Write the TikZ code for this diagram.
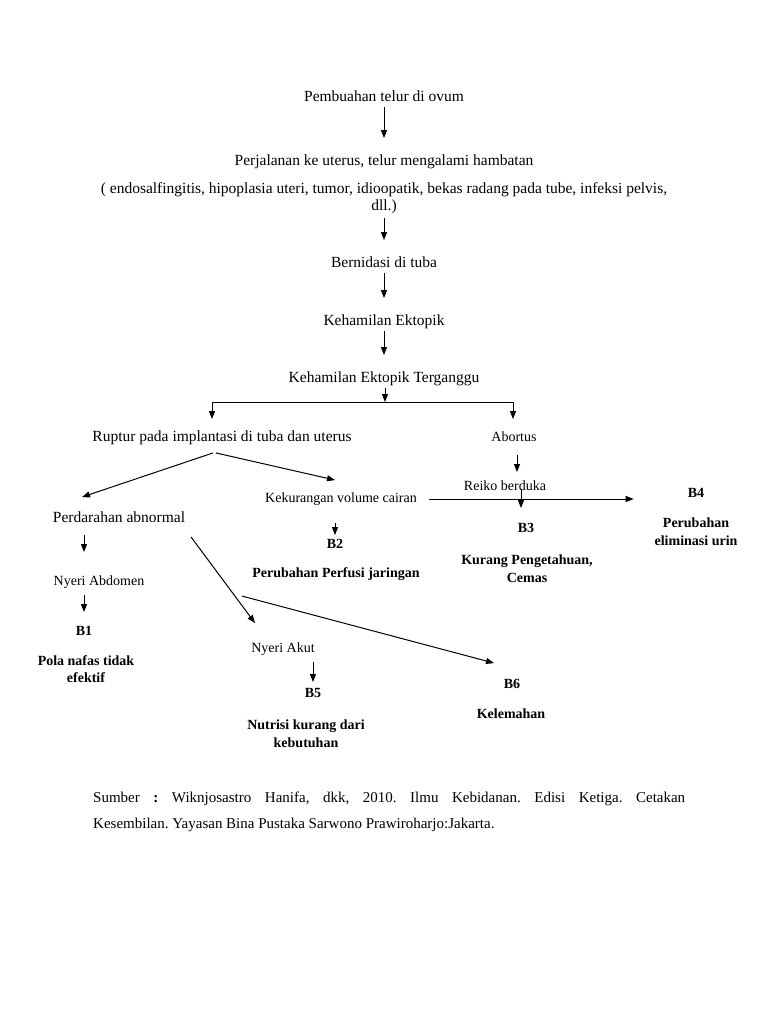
\documentclass[tikz,border=0pt]{standalone}
\usepackage{fontspec}
\setmainfont{Liberation Serif}
\usetikzlibrary{arrows.meta,calc,positioning}

\begin{document}
\begin{tikzpicture}[x=1pt, y=-1pt,
    txt/.style={inner sep=0pt, text height=12.5pt, text depth=1pt, font=\fontsize{15.5}{17}\selectfont},
    sml/.style={txt, font=\fontsize{14}{17}\selectfont},
    dx/.style={txt, font=\bfseries\fontsize{14}{18}\selectfont},
    dxx/.style={inner sep=0pt, align=center, font=\bfseries\fontsize{14}{17.5}\selectfont},
    arr/.style={-{Triangle[length=8pt,width=6pt]}, line width=1pt},
    down/.style={arr, shorten <=4pt, shorten >=15pt}]
    \useasboundingbox (0,0) rectangle (768,1024);

    % Main chain
    \node [txt] (pembuahan) at (384,96) {Pembuahan telur di ovum};
    \node [txt] (perjalanan) at (384,160) {Perjalanan ke uterus, telur mengalami hambatan};
    \node [inner sep=0pt, align=center, font=\fontsize{15.5}{17}\selectfont, anchor=north] (sebab) at (384,182)
        {( endosalfingitis, hipoplasia uteri, tumor, idioopatik, bekas radang pada tube, infeksi pelvis,\\ dll.)};
    \node [txt] (bernidasi) at (384,262) {Bernidasi di tuba};
    \node [txt] (ektopik) at (384,320) {Kehamilan Ektopik};
    \node [txt] (kets) at (384,377) {Kehamilan Ektopik Terganggu};

    \draw [down] (pembuahan) -- (perjalanan);
    \draw [down] (sebab.south) -- (bernidasi.north);
    \draw [down] (bernidasi) -- (ektopik);
    \draw [down] (ektopik) -- (kets);

    % Branch
    \coordinate (fork) at (385,402);
    \coordinate (forkL) at (212,402);
    \coordinate (forkR) at (513,402);
    \node [txt] (ruptur) at (222,436) {Ruptur pada implantasi di tuba dan uterus};
    \node [sml] (abortus) at (514,436) {Abortus};
    \draw [arr, shorten <=4pt] (kets.south -| fork) -- (fork);
    \draw [line width=1pt] (forkL) -- (forkR);
    \draw [arr, shorten >=10pt] (forkL) -- (forkL |- ruptur.north);
    \draw [arr, shorten >=10pt] (forkR) -- (forkR |- abortus.north);

    % Left side
    \node [txt] (perdarahan) at (119,517) {Perdarahan abnormal};
    \node [sml] (abdomen) at (99,580) {Nyeri Abdomen};
    \node [dx] (bA) at (84,630) {B1};
    \node [dxx, anchor=north] (pola) at (86,655) {Pola nafas tidak\\efektif};
    \draw [arr] ($(ruptur.south)+(-9,10)$) -- ($(perdarahan.north)+(-37,-13)$);
    \draw [arr] ($(perdarahan.south -| bA.north)+(0,11)$) -- ($(abdomen.north -| bA.north)+(0,-21)$);
    \draw [arr] ($(abdomen.south -| bA.north)+(0,8)$) -- ($(bA.north)+(0,-11)$);

    % Middle
    \node [sml] (kekurangan) at (341,497) {Kekurangan volume cairan};
    \node [dx] (bB) at (335,543) {B2};
    \node [dx] (perfusi) at (336,572) {Perubahan Perfusi jaringan};
    \draw [arr] ($(ruptur.south)+(-6,10)$) -- ($(kekurangan.north)+(-6,-10)$);
    \draw [arr] ($(kekurangan.south)+(-6,19)$) -- ($(bB.north)+(0,-1)$);

    % Right side
    \node [sml] (reiko) at (505,485) {Reiko berduka};
    \node [dx] (bC) at (526,527) {B3};
    \node [dxx, anchor=north] (kurang) at (527,555) {Kurang Pengetahuan,\\Cemas};
    \node [dx] (bD) at (696,492) {B4};
    \node [dxx, anchor=north] (eliminasi) at (696,518) {Perubahan\\eliminasi urin};
    \draw [arr] ($(abortus.south)+(3,12)$) -- ($(reiko.north)+(12,-6)$);
    \draw [arr] ($(kekurangan.east)+(12,2)$) -- ($(bD.west)+(-54,7)$);
    \draw [arr] ($(reiko.south)+(16,-3)$) -- ($(bC.north)+(-5,-12)$);

    % Bottom
    \node [sml] (akut) at (283,647) {Nyeri Akut};
    \node [dx] (bE) at (313,692) {B5};
    \node [dxx, anchor=north] (nutrisi) at (306,720) {Nutrisi kurang dari\\kebutuhan};
    \node [dx] (bF) at (512,683) {B6};
    \node [dx] (lemah) at (511,713) {Kelemahan};
    \draw [arr] ($(perdarahan.south)+(72,13)$) -- ($(akut.north)+(-28,-17)$);
    \draw [arr] ($(akut.north)+(-41,-44)$) -- ($(bF.north)+(-18,-13)$);
    \draw [arr] ($(akut.south)+(30,8)$) -- ($(bE.north)+(0,-3)$);

    % Source
    \node [inner sep=0pt, anchor=north west, text width=592pt, align=justify,
        font=\fontsize{15}{26}\selectfont\frenchspacing] (sumber) at (93,792)
        {Sumber \textbf{:} Wiknjosastro Hanifa, dkk, 2010. Ilmu Kebidanan. Edisi Ketiga. Cetakan\linebreak
        Kesembilan. Yayasan Bina Pustaka Sarwono Prawiroharjo:Jakarta.};
\end{tikzpicture}
\end{document}
